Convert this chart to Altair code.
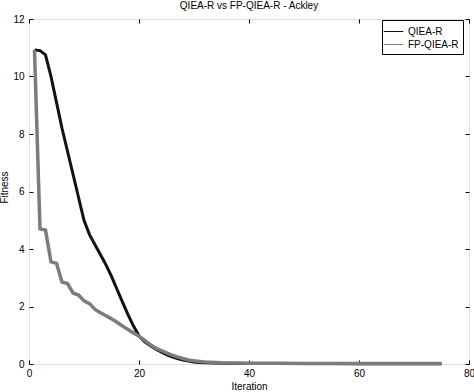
import altair as alt
import pandas as pd

# ---- data ----
iter_qiea = [1, 2, 3, 4, 5, 6, 7, 8, 9, 10, 11, 12, 13, 14, 15, 16, 17, 18, 19, 20,
             21, 22, 23, 24, 25, 26, 27, 28, 29, 30, 31, 32, 35, 40, 45, 50, 55, 60, 65, 70, 75]
fit_qiea = [10.92, 10.9, 10.75, 10.0, 9.1, 8.2, 7.4, 6.6, 5.8, 5.0, 4.5, 4.15, 3.8, 3.45, 3.05,
            2.6, 2.15, 1.72, 1.32, 0.98, 0.78, 0.64, 0.52, 0.42, 0.33, 0.25, 0.19, 0.14, 0.1,
            0.07, 0.05, 0.04, 0.03, 0.02, 0.02, 0.02, 0.02, 0.01, 0.01, 0.01, 0.01]

iter_fp = [1, 2, 3, 4, 5, 6, 7, 8, 9, 10, 11, 12, 13, 14, 15, 16, 17, 18, 19, 20,
           21, 22, 23, 24, 25, 26, 27, 28, 29, 30, 31, 32, 33, 34, 35, 40, 45, 50, 55, 60, 65, 70, 75]
fit_fp = [10.92, 4.7, 4.66, 3.55, 3.5, 2.85, 2.8, 2.47, 2.4, 2.2, 2.1, 1.9, 1.78, 1.68, 1.57,
          1.45, 1.32, 1.2, 1.08, 0.97, 0.83, 0.68, 0.56, 0.47, 0.39, 0.31, 0.25, 0.19, 0.14,
          0.11, 0.09, 0.07, 0.06, 0.05, 0.04, 0.03, 0.03, 0.02, 0.02, 0.02, 0.02, 0.02, 0.02]

series_names = ["QIEA-R", "FP-QIEA-R"]
series_colors = ["#111111", "#7c7c7c"]
x_ticks = [0, 20, 40, 60, 80]
y_ticks = [0, 2, 4, 6, 8, 10, 12]

df = pd.concat([
    pd.DataFrame({"Iteration": iter_qiea, "Fitness": fit_qiea, "Series": series_names[0]}),
    pd.DataFrame({"Iteration": iter_fp, "Fitness": fit_fp, "Series": series_names[1]}),
], ignore_index=True)

FONT = "Liberation Sans"
xs = alt.Scale(domain=[0, 80], nice=False)
ys = alt.Scale(domain=[0, 12], nice=False)

color = alt.Color(
    "Series:N",
    scale=alt.Scale(domain=series_names, range=series_colors),
    legend=alt.Legend(
        title=None, orient="none", legendX=353, legendY=1,
        symbolType="M-1.4,0L1.4,0", symbolStrokeWidth=1, symbolSize=196,
        labelFontSize=10, labelFont=FONT, labelColor="black", labelOffset=7,
        fillColor="white", strokeColor="black", padding=4, rowPadding=0,
    ),
)

x_main = alt.X("Iteration:Q", scale=xs, axis=alt.Axis(
    values=x_ticks, ticks=False, domain=False, grid=False, labelFontSize=10,
    labelFont=FONT, labelColor="black", labelPadding=4, title="Iteration",
    titleFont=FONT, titleFontSize=10, titleFontWeight="normal", titleColor="black",
    titleY=17, titleX=220, labelFlush=False))
y_main = alt.Y("Fitness:Q", scale=ys, axis=alt.Axis(
    values=y_ticks, ticks=False, domain=False, grid=False, labelFontSize=10,
    labelFont=FONT, labelColor="black", labelPadding=5, title="Fitness",
    titleFont=FONT, titleFontSize=10, titleFontWeight="normal", titleColor="black",
    titleX=-20, titleY=168, titleAngle=-90, titleBaseline="bottom", titleAlign="center",
    labelFlush=False))

x_plain = alt.X("Iteration:Q", scale=xs, axis=None)
y_plain = alt.Y("Fitness:Q", scale=ys, axis=None)

black = alt.Chart(df).transform_filter(alt.datum.Series == series_names[0]).mark_line(
    strokeWidth=3).encode(x=x_main, y=y_main, color=color)
gray = alt.Chart(df).transform_filter(alt.datum.Series == series_names[1]).mark_line(
    strokeWidth=3.5).encode(x=x_plain, y=y_plain, color=color)


def tick_layer(xorient, yorient):
    return alt.Chart(df).mark_point(opacity=0).encode(
        x=alt.X("Iteration:Q", scale=xs, axis=alt.Axis(
            orient=xorient, values=x_ticks, labels=False, ticks=True, tickSize=4,
            tickColor="black", offset=-4, domain=False, grid=False, title=None)),
        y=alt.Y("Fitness:Q", scale=ys, axis=alt.Axis(
            orient=yorient, values=y_ticks, labels=False, ticks=True, tickSize=4,
            tickColor="black", offset=-4, domain=False, grid=False, title=None)),
    )


chart = alt.layer(
    black, gray, tick_layer("bottom", "left"), tick_layer("top", "right")
).resolve_axis(x="independent", y="independent").properties(
    width=440, height=345,
    title=alt.TitleParams("QIEA-R vs FP-QIEA-R - Ackley", font=FONT, fontSize=10,
                          fontWeight="normal", color="black", anchor="middle", offset=3),
    autosize=alt.AutoSizeParams(type="none"),
    padding={"left": 29, "top": 19, "right": 5, "bottom": 28},
).configure_view(stroke="black", strokeWidth=1).configure(background="white")

chart.save("out.html", embed_options={"renderer": "svg", "actions": False})
